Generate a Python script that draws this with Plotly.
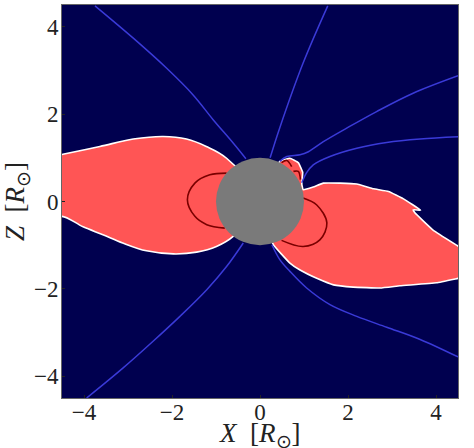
import plotly.graph_objects as go

# Streamer regions (closed outlines, X and Z in solar radii)
left_x = [0, -0.76, -1.22, -1.67, -2.20, -2.88, -3.64, -4.48, -4.7, -4.7, -4.5, -4.02, -3.57, -3.12, -2.58, -1.97, -1.44, -0.99, -0.61, 0]
left_z = [0, 0.99, 1.26, 1.43, 1.49, 1.43, 1.26, 1.08, 1.03, -0.43, -0.34, -0.58, -0.76, -0.95, -1.13, -1.20, -1.16, -1.03, -0.80, 0]
right_x = [0, 0.45, 0.68, 0.87, 0.97, 0.95, 0.98, 1.21, 1.44, 1.82, 2.20, 2.58, 2.92, 3.26, 3.65, 3.48, 3.52, 3.94, 4.5, 4.7, 4.7, 4.5, 4.01, 3.18, 2.73, 2.12, 1.67, 1.29, 0.91, 0.68, 0.30, 0]
right_z = [0, 0.92, 0.99, 0.89, 0.67, 0.40, 0.27, 0.33, 0.42, 0.42, 0.40, 0.29, 0.23, 0.06, -0.20, -0.19, -0.26, -0.66, -1.02, -1.15, -1.72, -1.76, -1.86, -1.93, -1.98, -1.96, -1.91, -1.76, -1.57, -1.41, -0.98, 0]

# Open field lines
a_x = [-3.75, -2.88, -2.12, -1.52, -1.07, -0.61, -0.32]
a_z = [4.48, 3.74, 3.05, 2.44, 1.88, 1.34, 0.98]
b_x = [1.54, 0.98, 0.45, 0.23]
b_z = [4.48, 3.17, 1.69, 1.00]
c_x = [4.5, 3.48, 2.65, 1.97, 1.44, 1.10, 0.91, 0.61, 0.45]
c_z = [2.88, 2.48, 2.06, 1.68, 1.37, 1.14, 1.07, 1.03, 0.92]
d_x = [4.5, 3.64, 2.88, 2.20, 1.59, 1.21, 1.06, 0.95]
d_z = [1.48, 1.43, 1.35, 1.22, 1.03, 0.84, 0.66, 0.43]
e_x = [4.5, 3.64, 2.88, 2.20, 1.59, 1.06, 0.68, 0.45, 0.27]
e_z = [-3.56, -3.16, -2.88, -2.63, -2.36, -1.98, -1.60, -1.33, -0.99]
f_x = [-3.94, -3.11, -2.43, -1.82, -1.21, -0.76, -0.38]
f_z = [-4.50, -3.81, -3.20, -2.63, -2.02, -1.49, -0.95]

# Closed field loops
loop1_x = [-0.76, -1.14, -1.48, -1.65, -1.48, -1.21, -0.80]
loop1_z = [0.65, 0.61, 0.42, 0.04, -0.34, -0.53, -0.61]
loop2_x = [0.98, 1.29, 1.52, 1.36, 0.98, 0.49]
loop2_z = [0.08, -0.08, -0.49, -0.88, -1.03, -0.89]
loop3_x = [0.49, 0.61, 0.72]
loop3_z = [0.89, 0.94, 0.80]
loop4_x = [0.76, 0.87, 0.92]
loop4_z = [0.69, 0.69, 0.50]

tick_vals = [-4, -2, 0, 2, 4]
tick_text = ["\u22124", "\u22122", "0", "2", "4"]

BG = "#00004f"
RED = "#ff5555"
BLUE = "#3a3ad8"
LOOP = "#7a0000"
FONT = "Liberation Serif"

fig = go.Figure()
fig.add_trace(go.Scatter(x=left_x, y=left_z, mode="lines", fill="toself", fillcolor=RED,
                         line=dict(color="white", width=1.6, shape="spline", smoothing=1),
                         hoverinfo="skip", showlegend=False))
fig.add_trace(go.Scatter(x=right_x, y=right_z, mode="lines", fill="toself", fillcolor=RED,
                         line=dict(color="white", width=1.6, shape="spline", smoothing=0.3),
                         hoverinfo="skip", showlegend=False))
for xs, zs in [(a_x, a_z), (b_x, b_z), (c_x, c_z), (d_x, d_z), (e_x, e_z), (f_x, f_z)]:
    fig.add_trace(go.Scatter(x=xs, y=zs, mode="lines",
                             line=dict(color=BLUE, width=1.5, shape="spline"),
                             hoverinfo="skip", showlegend=False))
for xs, zs in [(loop1_x, loop1_z), (loop2_x, loop2_z), (loop3_x, loop3_z), (loop4_x, loop4_z)]:
    fig.add_trace(go.Scatter(x=xs, y=zs, mode="lines",
                             line=dict(color=LOOP, width=1.6, shape="spline"),
                             hoverinfo="skip", showlegend=False))

fig.add_shape(type="circle", xref="x", yref="y", x0=-1, x1=1, y0=-1, y1=1,
              fillcolor="#7a7a7a", line=dict(width=0), layer="above")

axis_style = dict(range=[-4.5, 4.5], tickvals=tick_vals, ticktext=tick_text, automargin=False,
                  ticks="inside", ticklen=3, tickcolor="#222222", showgrid=False, zeroline=False,
                  showline=True, linecolor="#666666", linewidth=0.6, mirror=True,
                  tickfont=dict(family=FONT, size=23, color="#222222"))
fig.update_xaxes(**axis_style, ticklabelstandoff=-6)
fig.update_yaxes(**axis_style, ticklabelstandoff=-2,
                 title=dict(text="<i>Z</i>  [<i>R</i><sub>\u2299</sub>]", standoff=10,
                            font=dict(family=FONT, size=27, color="#222222")))
fig.add_annotation(text="<i>X</i>  [<i>R</i><sub>\u2299</sub>]", xref="paper", yref="paper",
                   x=0.5, y=0, xanchor="center", yanchor="top", yshift=-18, showarrow=False,
                   font=dict(family=FONT, size=27, color="#222222"))
fig.update_layout(width=474, height=448, autosize=False, paper_bgcolor="white", plot_bgcolor=BG,
                  margin=dict(l=62, r=16, t=5, b=50), showlegend=False)
fig.write_html("out.html", config={"displayModeBar": False},
               post_script="document.body.style.margin='0';")
